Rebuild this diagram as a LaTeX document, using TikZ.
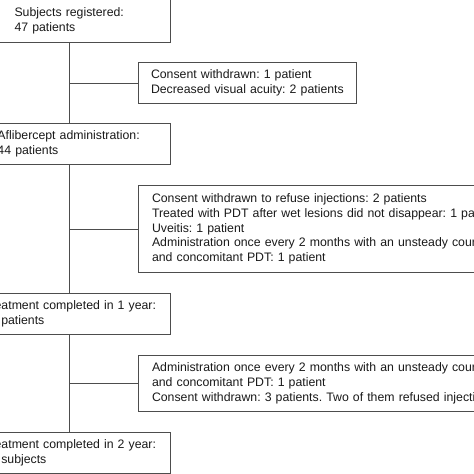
\documentclass[tikz,border=0pt]{standalone}
\usepackage{fontspec}
\setmainfont{Liberation Sans}
\frenchspacing
\hyphenpenalty=10000
\exhyphenpenalty=10000
\definecolor{linec}{HTML}{4D4D4D}
\definecolor{textc}{HTML}{1A1A1A}
\begin{document}
\begin{tikzpicture}[x=1pt,y=-1pt,
  every node/.style={font=\fontsize{12.3}{14.8}\selectfont, text=textc},
  mainbox/.style={draw=linec, line width=1pt, align=left, inner ysep=0pt,
    minimum height=41pt, anchor=north east},
  sidebox/.style={draw=linec, line width=1pt, align=left, inner ysep=0pt,
    inner xsep=13.5pt, anchor=north west},
  conn/.style={draw=linec, line width=1pt}]
\useasboundingbox (0,0) rectangle (474,474);
\fill[white] (0,0) rectangle (474,474);
\clip (0,0) rectangle (474,474);
\node[mainbox, minimum height=43pt, text width=126pt, inner xsep=30pt] (b1) at (171,-1)
  {Subjects registered:\\47 patients};
\node[mainbox, text width=163pt, inner xsep=10pt] (b2) at (171,123)
  {Aflibercept administration:\\44 patients};
\node[mainbox, text width=177pt, inner xsep=10pt] (b3) at (171,293)
  {Treatment completed in 1 year:\\39 patients};
\node[mainbox, text width=177pt, inner xsep=10pt] (b4) at (171,432)
  {Treatment completed in 2 year:\\35 subjects};
\node[sidebox, text width=193pt, inner xsep=12.5pt, minimum height=41pt] (s1) at (138,62)
  {Consent withdrawn: 1 patient\\Decreased visual acuity: 2 patients};
\node[sidebox, text width=420pt, minimum height=87pt] (s2) at (138,185)
  {Consent withdrawn to refuse injections: 2 patients\\
   Treated with PDT after wet lesions did not disappear: 1 patient\\
   Uveitis: 1 patient\\
   Administration once every 2 months with an unsteady course\\
   and concomitant PDT: 1 patient};
\node[sidebox, text width=420pt, minimum height=56pt] (s3) at (138,355)
  {Administration once every 2 months with an unsteady course\\
   and concomitant PDT: 1 patient\\
   Consent withdrawn: 3 patients. Two of them refused injections.};
\coordinate (tr) at (69,0);
\draw[conn] (b1.south -| tr) -- (b2.north -| tr);
\draw[conn] (b2.south -| tr) -- (b3.north -| tr);
\draw[conn] (b3.south -| tr) -- (b4.north -| tr);
\draw[conn] (s1.west -| tr) -- (s1.west);
\draw[conn] (s2.west -| tr) -- (s2.west);
\draw[conn] (s3.west -| tr) -- (s3.west);
\end{tikzpicture}
\end{document}
